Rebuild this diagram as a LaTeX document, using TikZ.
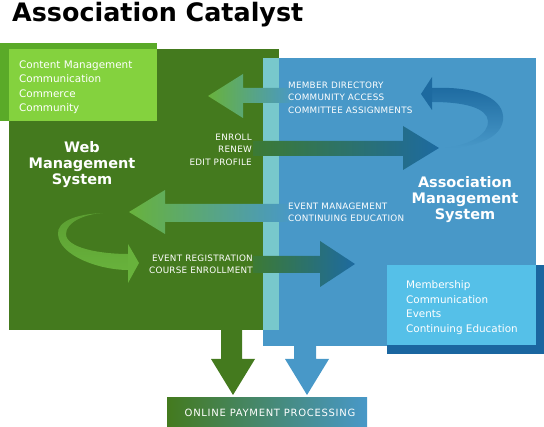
\documentclass[tikz,border=0pt]{standalone}
\usepackage{fontspec}
\setmainfont{DejaVu Sans}
\newfontfamily\spacedcaps{DejaVu Sans}[LetterSpace=3]
\newfontfamily\widecaps{DejaVu Sans}[LetterSpace=7]

\definecolor{webgreen}{HTML}{447A1E}
\definecolor{leafgreen}{HTML}{84D23E}
\definecolor{edgegreen}{HTML}{5AAA28}
\definecolor{amsblue}{HTML}{4898C8}
\definecolor{overlap}{HTML}{78C8CC}
\definecolor{paleblue}{HTML}{55C0E8}
\definecolor{deepblue}{HTML}{1A66A0}
\definecolor{flowgreen}{HTML}{68B23C}
\definecolor{flowblue}{HTML}{1D6AA0}
\definecolor{darkflow}{HTML}{3C7A34}

\tikzset{
  caps/.style={inner sep=0pt, text=white, font=\spacedcaps\fontsize{8.8}{12.4}\selectfont},
  items/.style={inner sep=0pt, text=white, align=left, font=\fontsize{10.4}{14.5}\selectfont},
  system/.style={inner sep=0pt, text=white, align=center, font=\bfseries\fontsize{14.5}{15.8}\selectfont},
}

\begin{document}
\begin{tikzpicture}[x=1pt,y=-1pt]
\useasboundingbox (0,0) rectangle (544,427);

\node[anchor=base west, inner sep=0pt, font=\bfseries\fontsize{25.4}{30}\selectfont] (title) at (12,22) {Association Catalyst};

% boxes
\fill[webgreen] (9,49) rectangle (279,330);
\fill[edgegreen] (0,43) rectangle (157,121);
\fill[leafgreen] (9,49) rectangle (157,121);
\fill[amsblue] (263,58) rectangle (536,346);
\fill[overlap] (263,58) rectangle (279,330);
\fill[deepblue] (387,265) rectangle (544,354);
\fill[paleblue] (387,265) rectangle (536,345);

% down to payment
\fill[webgreen] (221,330) -- (242,330) -- (242,359) -- (255,359) -- (233,395) -- (211,359) -- (221,359) -- cycle;
\fill[amsblue] (294,346) -- (316,346) -- (316,359) -- (329,359) -- (307,395) -- (285,359) -- (294,359) -- cycle;
\shade[left color=webgreen, right color=amsblue] (167,398) rectangle (367,427);

% flows between the systems
\shade[left color=flowgreen, right color=amsblue] (208,96) -- (243,74) -- (243,88) -- (294,88) -- (294,103) -- (243,103) -- (243,118) -- cycle;
\shade[left color=darkflow, right color=flowblue] (253,141) -- (403,141) -- (403,126) -- (439,148) -- (403,170) -- (403,156) -- (253,156) -- cycle;
\shade[left color=flowgreen, right color=amsblue] (129,212) -- (165,190) -- (165,204) -- (292,204) -- (292,222) -- (165,222) -- (165,234) -- cycle;
\shade[left color=darkflow, right color=flowblue] (253,256) -- (320,256) -- (320,241) -- (355,264) -- (320,287) -- (320,273) -- (253,273) -- cycle;

% loops
\shade[top color=webgreen!35!flowgreen, bottom color=flowgreen] (103,213) .. controls (75,214) and (57,222) .. (58,234) .. controls (59,256) and (100,270) .. (128,270) -- (128,254) .. controls (100,254) and (66,248) .. (66,234) .. controls (66,222) and (85,214) .. (103,213) -- cycle;
\fill[flowgreen] (128,244) -- (139,263) -- (128,283) -- cycle;
\shade[top color=flowblue, bottom color=amsblue] (432,88) .. controls (480,86) and (505,100) .. (503,120) .. controls (501,140) and (470,148) .. (445,148) .. controls (470,145) and (489,134) .. (488,121) .. controls (487,108) and (465,102) .. (432,102) -- cycle;
\fill[flowblue] (432,77) -- (421,94) -- (432,110) -- cycle;

\node[items, anchor=north west] (webitems) at (19,60.5) {Content Management\\Communication\\Commerce\\Community};
\node[items, anchor=north west] (amsitems) at (406,280.5) {Membership\\Communication\\Events\\Continuing Education};
\node[system, anchor=north] (web) at (82,141.4) {Web\\Management\\System};
\node[system, anchor=north] (ams) at (465,176.4) {Association\\Management\\System};

\node[caps, align=left, anchor=north west] (directory) at (288,81.6) {MEMBER DIRECTORY\\COMMUNITY ACCESS\\COMMITTEE ASSIGNMENTS};
\node[caps, align=right, anchor=north east] (enroll) at (252,133.6) {ENROLL\\RENEW\\EDIT PROFILE};
\node[caps, align=left, anchor=north west] (events) at (288,202.6) {EVENT MANAGEMENT\\CONTINUING EDUCATION};
\node[caps, align=right, anchor=north east] (register) at (253,254.6) {EVENT REGISTRATION\\COURSE ENROLLMENT};
\node[anchor=base, inner sep=0pt, text=white, font=\widecaps\fontsize{10}{12}\selectfont] (payment) at (270,417) {ONLINE PAYMENT PROCESSING};
\end{tikzpicture}
\end{document}
